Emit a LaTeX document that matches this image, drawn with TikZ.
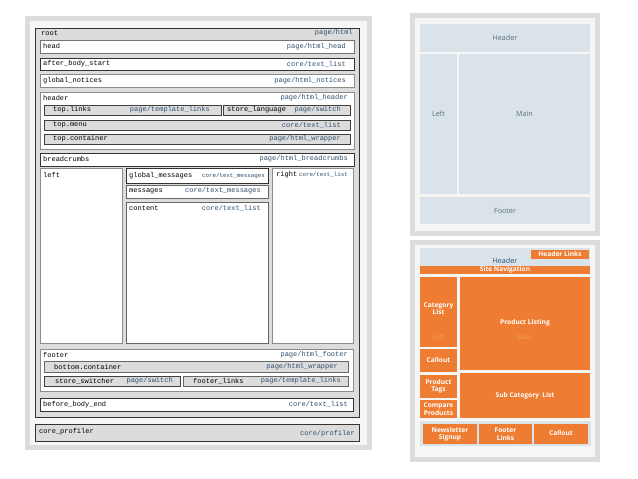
\documentclass[tikz,border=0pt]{standalone}
\usepackage{fontspec}
\newfontfamily\layoutmono{Liberation Mono}
\newfontfamily\layoutsans{Open Sans}
\definecolor{framegray}{HTML}{DCDCDC}
\definecolor{panelwhite}{HTML}{F6F6F4}
\definecolor{boxgray}{HTML}{DCDCDC}
\definecolor{tplblue}{HTML}{2E4F6E}
\definecolor{paleblue}{HTML}{D9E3E9}
\definecolor{slatetext}{HTML}{5E6E7A}
\definecolor{blockorange}{HTML}{EE7D33}
\definecolor{fadedorange}{HTML}{F39A5E}

\begin{document}
\begin{tikzpicture}[x=1pt, y=-1pt,
    panel/.style={fill=panelwhite, draw=framegray, line width=5pt},
    outerbox/.style={fill=boxgray, draw=black!80, line width=0.9pt},
    whitebox/.style={fill=white, draw=black!45, line width=0.9pt},
    darkbox/.style={fill=white, draw=black!80, line width=0.9pt},
    innerbox/.style={fill=boxgray, draw=black!75, line width=0.8pt},
    bname/.style={font=\layoutmono\fontsize{7}{8}\selectfont, anchor=west, inner sep=0pt},
    btpl/.style={font=\layoutmono\fontsize{7}{8}\selectfont, text=tplblue, anchor=east, inner sep=0pt},
    btplsmall/.style={btpl, font=\layoutmono\fontsize{5.8}{7}\selectfont},
    blue/.style={fill=paleblue, draw=none},
    orange/.style={fill=blockorange, draw=none},
    blabel/.style={font=\layoutsans\fontsize{7.2}{8.2}\selectfont, text=slatetext},
    olabel/.style={font=\layoutsans\bfseries\fontsize{6.6}{7.4}\selectfont, text=white, align=center},
    flabel/.style={font=\layoutsans\fontsize{6.6}{7.4}\selectfont, text=fadedorange}]
    \useasboundingbox[fill=white] (0,0) rectangle (638,479);

    % ---- page layout handles ----
    \draw[panel] (27.5,18.5) rectangle (369.5,447.5);
    \draw[outerbox] (35,28) rectangle (359,417);
    \node[bname] (root-n) at (41,33) {root};
    \node[btpl] (root-t) at (353,33) {page/html};

    \draw[whitebox, draw=black!55] (40,40) rectangle (354,53);
    \node[bname] (head-n) at (43,46.5) {head};
    \node[btpl] (head-t) at (346,46.5) {page/html\_head};

    \draw[darkbox] (40,58) rectangle (354,70);
    \node[bname] (abs-n) at (43,64) {after\_body\_start};
    \node[btpl] (abs-t) at (346,64) {core/text\_list};

    \draw[whitebox] (40,74) rectangle (354,87);
    \node[bname] (gn-n) at (43,80.5) {global\_notices};
    \node[btpl] (gn-t) at (346,80.5) {page/html\_notices};

    % header and its children
    \draw[whitebox] (40,92) rectangle (354,149);
    \node[bname] (hdr-n) at (43,98) {header};
    \node[btpl] (hdr-t) at (348,98) {page/html\_header};
    \draw[innerbox] (44,105) rectangle (221,115);
    \node[bname] (tl-n) at (53,110) {top.links};
    \node[btpl] (tl-t) at (210,110) {page/template\_links};
    \draw[innerbox] (223,105) rectangle (350,115);
    \node[bname] (sl-n) at (227,110) {store\_language};
    \node[btpl] (sl-t) at (341,110) {page/switch};
    \draw[innerbox] (44,120) rectangle (350,130);
    \node[bname] (tm-n) at (53,125) {top.menu};
    \node[btpl] (tm-t) at (341,125) {core/text\_list};
    \draw[innerbox] (44,134) rectangle (350,144);
    \node[bname] (tc-n) at (53,139) {top.container};
    \node[btpl] (tc-t) at (341,139) {page/html\_wrapper};

    \draw[darkbox] (40,153) rectangle (354,166);
    \node[bname] (bc-n) at (43,159) {breadcrumbs};
    \node[btpl] (bc-t) at (348,159) {page/html\_breadcrumbs};

    % three columns
    \draw[whitebox] (40,168) rectangle (122,343);
    \node[bname] (left-n) at (43,175) {left};
    \draw[darkbox] (126,168) rectangle (268,183);
    \node[bname] (gm-n) at (129,175.5) {global\_messages};
    \node[btplsmall] (gm-t) at (265,175.5) {core/text\_messages};
    \draw[whitebox, draw=black!60] (126,185) rectangle (268,198);
    \node[bname] (msg-n) at (129,191) {messages};
    \node[btpl] (msg-t) at (261,191) {core/text\_messages};
    \draw[whitebox, draw=black!60] (126,202) rectangle (268,343);
    \node[bname] (cnt-n) at (129,208) {content};
    \node[btpl] (cnt-t) at (261,208) {core/text\_list};
    \draw[whitebox] (272,168) rectangle (353,343);
    \node[bname] (right-n) at (276,175) {right};
    \node[btplsmall] (right-t) at (348,175) {core/text\_list};

    % footer and its children
    \draw[whitebox] (40,349) rectangle (353,391);
    \node[bname] (ftr-n) at (43,355) {footer};
    \node[btpl] (ftr-t) at (348,355) {page/html\_footer};
    \draw[innerbox, draw=black!60] (44,361) rectangle (348,372);
    \node[bname] (bcn-n) at (54,366.5) {bottom.container};
    \node[btpl] (bcn-t) at (338,366.5) {page/html\_wrapper};
    \draw[innerbox] (44,376) rectangle (180,386);
    \node[bname] (ss-n) at (55,381) {store\_switcher};
    \node[btpl] (ss-t) at (173,381) {page/switch};
    \draw[innerbox, draw=black!60] (183,376) rectangle (348,386);
    \node[bname] (fl-n) at (193,381) {footer\_links};
    \node[btpl] (fl-t) at (341,381) {page/template\_links};

    \draw[darkbox] (40,398) rectangle (353,411);
    \node[bname] (bbe-n) at (43,404.5) {before\_body\_end};
    \node[btpl] (bbe-t) at (348,404.5) {core/text\_list};

    \draw[outerbox] (35,424) rectangle (359,441);
    \node[bname] (cp-n) at (39,432) {core\_profiler};
    \node[btpl] (cp-t) at (355,434) {core/profiler};

    % ---- generic wireframe ----
    \draw[panel] (412.5,15.5) rectangle (597.5,233.5);
    \fill[blue] (420,24) rectangle (590,52);
    \fill[blue] (420,54) rectangle (457,194);
    \fill[blue] (459,54) rectangle (590,194);
    \fill[blue] (420,197) rectangle (590,224);
    \node[blabel] (wf-header) at (505,38) {Header};
    \node[blabel] (wf-left) at (438.5,114) {Left};
    \node[blabel] (wf-main) at (524.5,114) {Main};
    \node[blabel] (wf-footer) at (505,210.5) {Footer};

    % ---- store wireframe ----
    \draw[panel] (412.5,242.5) rectangle (597.5,459.5);
    \fill[blue] (420,248) rectangle (590,266);
    \fill[blue] (420,421) rectangle (591,446);
    \fill[orange] (531,250) rectangle (589,259);
    \node[olabel] (hl) at (560,254.5) {Header Links};
    \node[blabel, text=tplblue] (st-header) at (505,261) {Header};
    \fill[orange] (420,266) rectangle (590,274);
    \node[olabel] (nav) at (505,270) {Site Navigation};
    % left column
    \fill[orange] (420,277) rectangle (457,347);
    \node[olabel] (cat) at (438.5,308.5) {Category\\List};
    \node[flabel] (st-left) at (438.5,337) {Left};
    \fill[orange] (420,349) rectangle (457,372);
    \node[olabel] (co1) at (438.5,360.5) {Callout};
    \fill[orange] (420,375) rectangle (457,398);
    \node[olabel] (tags) at (438.5,386.5) {Product\\Tags};
    \fill[orange] (420,400) rectangle (457,418);
    \node[olabel] (cmp) at (438.5,409) {Compare\\Products};
    % main column
    \fill[orange] (460,277) rectangle (590,370);
    \node[olabel] (pl) at (525,323) {Product Listing};
    \node[flabel] (st-main) at (525,337) {Main};
    \fill[orange] (460,373) rectangle (590,418);
    \node[olabel] (scl) at (525,396) {Sub Category\ \ List};
    % footer row
    \fill[orange] (423,424) rectangle (477,444);
    \node[olabel] (news) at (450,434) {Newsletter\\Signup};
    \fill[orange] (479,424) rectangle (532,444);
    \node[olabel] (flinks) at (505.5,434) {Footer\\Links};
    \fill[orange] (534,424) rectangle (588,444);
    \node[olabel] (co2) at (561,433) {Callout};
\end{tikzpicture}
\end{document}
